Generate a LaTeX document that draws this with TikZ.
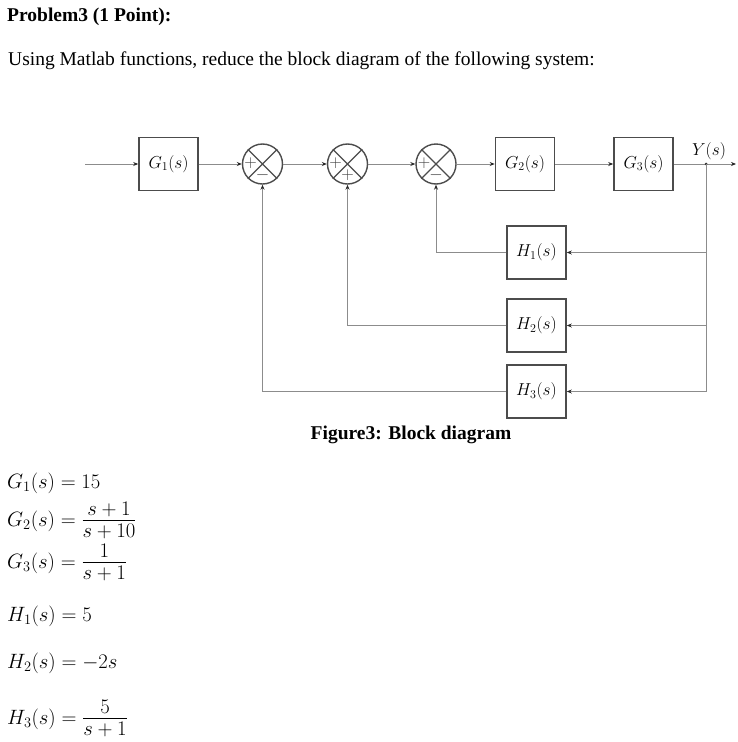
\documentclass[tikz,border=0pt]{standalone}
\usepackage{fontspec}
\setmainfont{Liberation Serif}
\usepackage{amsmath}
\usetikzlibrary{calc, arrows.meta}
% compact fraction, numerator kept clear of the bar
\newcommand{\wfrac}[2]{\frac{\displaystyle\rule[-4pt]{0pt}{0pt}#1}{\displaystyle\rule{0pt}{15pt}#2}}
\begin{document}
\begin{tikzpicture}[
    x=1pt, y=-1pt,
    block/.style={draw=black!70, line width=1.6pt, minimum width=59pt, minimum height=53pt, inner sep=0pt, font=\fontsize{17.5}{19}\selectfont},
    sum/.style={draw=black!70, circle, line width=1.4pt, minimum size=40pt, inner sep=0pt},
    sign/.style={inner sep=0pt, text=black!75, font=\fontsize{16}{16}\selectfont},
    wire/.style={draw=black!45, line width=0.8pt},
    arrow/.style={wire, -{Stealth[length=5pt, width=4pt, color=black!85]}},
    eq/.style={anchor=base west, inner sep=0pt, font=\fontsize{22}{26}\selectfont},
    heading/.style={anchor=base west, inner sep=0pt, font=\fontsize{19.5}{22}\selectfont},
]
\useasboundingbox (0,0) rectangle (737,742);

% Heading
\node[heading, font=\fontsize{19.5}{22}\selectfont\bfseries] (title) at (7,21) {Problem3 (1 Point):};
\node[heading] (task) at (8,65) {Using Matlab functions, reduce the block diagram of the following system:};

% Forward path
\coordinate (in) at (85,164);
\node[block] (G1) at (168.5,164) {$G_1(s)$};
\node[sum] (s1) at (262.5,164) {};
\node[sum] (s2) at (347.5,164) {};
\node[sum] (s3) at (436,164) {};
\node[block] (G2) at (525,164) {$G_2(s)$};
\node[block] (G3) at (643.5,164) {$G_3(s)$};
\coordinate (ypt) at (706,164);
\coordinate (out) at (736,164);
\node[font=\fontsize{16}{18}\selectfont] (ylab) at (709,151) {$Y(s)$};

% Crosses and signs
\draw[black!70, line width=1.2pt] (s1.north west) -- (s1.south east) (s1.north east) -- (s1.south west);
\draw[black!70, line width=1.2pt] (s2.north west) -- (s2.south east) (s2.north east) -- (s2.south west);
\draw[black!70, line width=1.2pt] (s3.north west) -- (s3.south east) (s3.north east) -- (s3.south west);
\node[sign] (p1) at ($(s1.center)+(-12,-1)$) {$+$};
\node[sign] (m1) at ($(s1.center)+(0,11)$) {$-$};
\node[sign] (p2) at ($(s2.center)+(-12,-1)$) {$+$};
\node[sign] (q2) at ($(s2.center)+(0,11)$) {$+$};
\node[sign] (p3) at ($(s3.center)+(-12,-1)$) {$+$};
\node[sign] (m3) at ($(s3.center)+(0,11)$) {$-$};

% Feedback blocks
\node[block] (H1) at (536.5,252.5) {$H_1(s)$};
\node[block] (H2) at (536.5,325.5) {$H_2(s)$};
\node[block] (H3) at (536.5,391.5) {$H_3(s)$};

% Connections
\draw[arrow] (in) -- (G1.west);
\draw[arrow] (G1.east) -- (s1.west);
\draw[arrow] (s1.east) -- (s2.west);
\draw[arrow] (s2.east) -- (s3.west);
\draw[arrow] (s3.east) -- (G2.west);
\draw[arrow] (G2.east) -- (G3.west);
\draw[arrow] (G3.east) -- (out);
\fill[black!80] (ypt) circle (1.5pt);
\draw[arrow] (ypt) |- (H1.east);
\draw[arrow] (ypt) |- (H2.east);
\draw[arrow] (ypt) |- (H3.east);
\draw[arrow] (H1.west) -| (s3.south);
\draw[arrow] (H2.west) -| (s2.south);
\draw[arrow] (H3.west) -| (s1.south);

% Caption
\node[anchor=base, inner sep=0pt, font=\fontsize{19.5}{22}\selectfont\bfseries] (cap) at (411,439) {Figure3: Block diagram};

% Transfer functions
\node[eq] (eqG1) at (7,488) {$G_1(s)=15$};
\node[eq] (eqG2) at (7,526) {$G_2(s)=\wfrac{s+1}{s+10}$};
\node[eq] (eqG3) at (7,568) {$G_3(s)=\wfrac{1}{s+1}$};
\node[eq] (eqH1) at (7,621) {$H_1(s)=5$};
\node[eq] (eqH2) at (7,668) {$H_2(s)=-2s$};
\node[eq] (eqH3) at (7,724) {$H_3(s)=\wfrac{5}{s+1}$};

\end{tikzpicture}
\end{document}
